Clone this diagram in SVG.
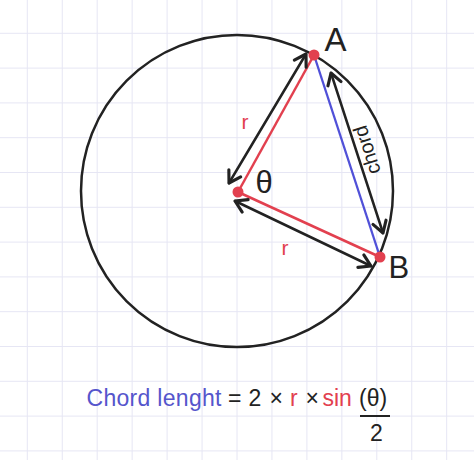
<svg xmlns="http://www.w3.org/2000/svg" width="474" height="460" viewBox="0 0 474 460">
  <style>
    .grid { stroke: #e6e6f4; stroke-width: 1; fill: none; }
    .t { font-family: "Liberation Sans", Arial, sans-serif; }
    .dim { stroke: #222; stroke-width: 2.5; fill: none; stroke-linecap: round; marker-start: url(#ah); marker-end: url(#ah); }
    .red { fill: #e2404f; }
    .blue { fill: #5555cc; }
    .blk { fill: #222; }
  </style>
  <defs>
    <marker id="ah" markerUnits="userSpaceOnUse" markerWidth="20" markerHeight="20" viewBox="-12 -8 14 16" refX="0" refY="0" orient="auto-start-reverse">
      <path d="M-9,-5.5 L0,0 L-9,5.5" fill="none" stroke="#222" stroke-width="2.5" stroke-linecap="round" stroke-linejoin="round"/>
    </marker>
  </defs>
  <rect width="474" height="460" fill="#ffffff"/>
  <g id="grid">
    <path class="grid" d="M27.3,0V460 M62.25,0V460 M97.2,0V460 M132.15,0V460 M167.1,0V460 M202.05,0V460 M237,0V460 M271.95,0V460 M306.9,0V460 M341.85,0V460 M376.8,0V460 M411.75,0V460 M446.7,0V460 M0,33.3H474 M0,68.1H474 M0,102.9H474 M0,137.7H474 M0,172.5H474 M0,207.3H474 M0,242.1H474 M0,276.9H474 M0,311.7H474 M0,346.5H474 M0,381.3H474 M0,416.1H474 M0,450.9H474"/>
  </g>
  <g id="circle">
    <circle cx="237" cy="191" r="156" fill="none" stroke="#222" stroke-width="2.5"/>
  </g>
  <g id="connectors">
    <line x1="238" y1="192" x2="314" y2="55" stroke="#e2404f" stroke-width="2.5"/>
    <line x1="238" y1="192" x2="380" y2="257" stroke="#e2404f" stroke-width="2.5"/>
    <line x1="314" y1="55" x2="380" y2="257" stroke="#5050d8" stroke-width="2.3"/>
    <line class="dim" x1="229" y1="183" x2="306" y2="54"/>
    <line class="dim" x1="235" y1="201" x2="371" y2="266"/>
    <line class="dim" x1="331" y1="73" x2="383" y2="233"/>
  </g>
  <g id="center">
    <circle cx="238" cy="192" r="5.5" fill="#e2404f"/>
    <text class="t blk" x="255.5" y="193" font-size="31">θ</text>
  </g>
  <g id="pointA">
    <circle cx="314" cy="55" r="5.5" fill="#e2404f"/>
    <text class="t blk" x="324.5" y="51" font-size="33">A</text>
  </g>
  <g id="pointB">
    <circle cx="380" cy="257" r="5.5" fill="#e2404f"/>
    <text class="t blk" x="388.5" y="278" font-size="31">B</text>
  </g>
  <g id="labels">
    <text class="t red" x="245" y="129" font-size="21" text-anchor="middle">r</text>
    <text class="t red" x="285" y="255" font-size="21" text-anchor="middle">r</text>
    <text class="t blk" font-size="20" text-anchor="middle" transform="translate(373.5,148) rotate(-107.6)">chord</text>
  </g>
  <g id="formula" font-size="23">
    <text class="t blue" x="86.5" y="406" textLength="135" lengthAdjust="spacing">Chord lenght</text>
    <text class="t blk" x="228" y="406">=</text>
    <text class="t blk" x="248.5" y="406">2</text>
    <text class="t blk" x="269.5" y="406">×</text>
    <text class="t red" x="290" y="406">r</text>
    <text class="t blk" x="305.5" y="406">×</text>
    <text class="t red" x="322.5" y="406">sin</text>
    <text class="t blk" x="359" y="406">(θ)</text>
    <line x1="360" y1="416" x2="390" y2="416" stroke="#222" stroke-width="2"/>
    <text class="t blk" x="376.5" y="441" text-anchor="middle">2</text>
  </g>
</svg>
